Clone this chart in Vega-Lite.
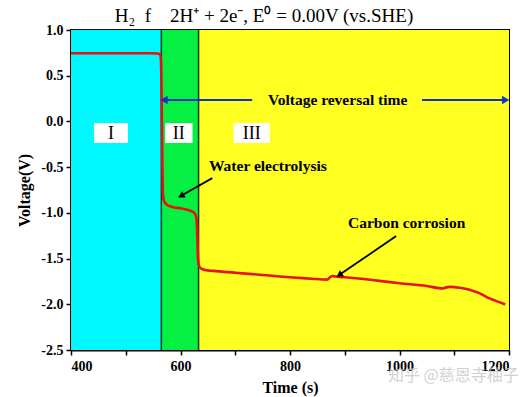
{
  "$schema": "https://vega.github.io/schema/vega-lite/v6.json",
  "width": 438,
  "height": 320,
  "autosize": "none",
  "padding": {"left": 71, "top": 30, "right": 21, "bottom": 47},
  "background": "white",
  "config": {
    "view": {"stroke": "black", "strokeWidth": 2},
    "font": "Liberation Serif"
  },
  "title": {
    "text": "H\u2082\u00a0 f\u00a0\u00a0\u00a0 2H\u207a + 2e\u207b, E\u2070 = 0.00V (vs.SHE)",
    "font": "Liberation Serif",
    "fontSize": 19,
    "fontWeight": "normal",
    "color": "black",
    "anchor": "middle",
    "dx": -26,
    "offset": -3
  },
  "datasets": {
    "regions": [
      {"start": 400, "end": 565, "region": "I"},
      {"start": 565, "end": 633, "region": "II"},
      {"start": 633, "end": 1200, "region": "III"}
    ],
    "dividers": [{"t": 565}, {"t": 633}],
    "voltage": [
      {"t": 400, "v": 0.745}, {"t": 450, "v": 0.745}, {"t": 500, "v": 0.745},
      {"t": 540, "v": 0.745}, {"t": 558, "v": 0.743}, {"t": 562, "v": 0.735},
      {"t": 564, "v": 0.7}, {"t": 565, "v": 0.5}, {"t": 566, "v": 0.0},
      {"t": 567, "v": -0.5}, {"t": 568, "v": -0.8}, {"t": 570, "v": -0.87},
      {"t": 575, "v": -0.91}, {"t": 585, "v": -0.935}, {"t": 600, "v": -0.95},
      {"t": 615, "v": -0.97}, {"t": 625, "v": -1.0}, {"t": 629, "v": -1.05},
      {"t": 631, "v": -1.3}, {"t": 632, "v": -1.5}, {"t": 634, "v": -1.58},
      {"t": 638, "v": -1.61}, {"t": 645, "v": -1.625}, {"t": 660, "v": -1.635},
      {"t": 700, "v": -1.655}, {"t": 750, "v": -1.68}, {"t": 800, "v": -1.705},
      {"t": 840, "v": -1.72}, {"t": 868, "v": -1.73}, {"t": 872, "v": -1.71},
      {"t": 877, "v": -1.69}, {"t": 883, "v": -1.697}, {"t": 900, "v": -1.705},
      {"t": 950, "v": -1.735}, {"t": 1000, "v": -1.77}, {"t": 1050, "v": -1.8},
      {"t": 1080, "v": -1.828}, {"t": 1085, "v": -1.815}, {"t": 1092, "v": -1.81},
      {"t": 1110, "v": -1.82}, {"t": 1130, "v": -1.845}, {"t": 1145, "v": -1.875},
      {"t": 1160, "v": -1.925}, {"t": 1175, "v": -1.96}, {"t": 1193, "v": -2.0}
    ],
    "blueSegs": [
      {"t": 568, "t2": 731, "v": 0.234},
      {"t": 1041, "t2": 1196, "v": 0.234}
    ],
    "blueHeads": [
      {"t": 570, "v": 0.234, "shape": "triangle-left"},
      {"t": 1194, "v": 0.234, "shape": "triangle-right"}
    ],
    "blackSegs": [
      {"t": 658, "t2": 602, "v": -0.62, "v2": -0.81},
      {"t": 994, "t2": 891, "v": -1.254, "v2": -1.675}
    ],
    "blackHeads": [
      {"t": 601, "v": -0.815, "ang": 240.8},
      {"t": 890, "v": -1.68, "ang": 235.6}
    ],
    "boxes": [
      {"t": 442, "t2": 504, "v": -0.018, "v2": -0.236, "label": "I", "tc": 473, "vc": -0.127},
      {"t": 572, "t2": 622, "v": -0.018, "v2": -0.236, "label": "II", "tc": 597, "vc": -0.127},
      {"t": 697, "t2": 763, "v": -0.018, "v2": -0.236, "label": "III", "tc": 730, "vc": -0.127}
    ],
    "centerNotes": [
      {"t": 887, "v": 0.234, "text": "Voltage reversal time"}
    ],
    "leftNotes": [
      {"t": 652, "v": -0.488, "text": "Water electrolysis"},
      {"t": 906, "v": -1.108, "text": "Carbon corrosion"}
    ],
    "mark": [{"t": 979, "v": -2.785, "text": "知乎 @慈恩寺柚子"}]
  },
  "layer": [
    {
      "data": {"name": "regions"},
      "mark": {"type": "rect"},
      "encoding": {
        "x": {
          "field": "start", "type": "quantitative",
          "scale": {"domain": [400, 1200], "nice": false, "zero": false},
          "axis": {
            "title": "Time (s)",
            "values": [400, 500, 600, 700, 800, 900, 1000, 1100, 1200],
            "labelExpr": "datum.value % 200 == 0 ? format(datum.value, 'd') : ''",
            "grid": false,
            "domainColor": "black", "domainWidth": 2,
            "tickColor": "black", "tickWidth": 1.5, "tickSize": 5,
            "labelFont": "Liberation Serif", "labelFontWeight": "bold",
            "labelFontSize": 14, "labelColor": "black", "labelPadding": 4,
            "titleFont": "Liberation Serif", "titleFontWeight": "bold",
            "titleFontSize": 16, "titleColor": "black", "titlePadding": 6
          }
        },
        "x2": {"field": "end"},
        "y": {"datum": 1.0, "type": "quantitative",
          "scale": {"domain": [-2.5, 1.0], "nice": false, "zero": false},
          "axis": {
            "title": "Voltage(V)",
            "values": [-2.5, -2.25, -2.0, -1.75, -1.5, -1.25, -1.0, -0.75, -0.5, -0.25, 0, 0.25, 0.5, 0.75, 1.0],
            "labelExpr": "abs(round(datum.value * 4)) % 2 == 0 ? replace(format(datum.value, '.1f'), '−', '-') : ''",
            "grid": false,
            "domainColor": "black", "domainWidth": 2,
            "tickColor": "black", "tickWidth": 1.5, "tickSize": 5,
            "labelFont": "Liberation Serif", "labelFontWeight": "bold",
            "labelFontSize": 14, "labelColor": "black", "labelPadding": 3,
            "titleFont": "Liberation Serif", "titleFontWeight": "bold",
            "titleFontSize": 16, "titleColor": "black", "titlePadding": 8
          }
        },
        "y2": {"datum": -2.5},
        "color": {
          "field": "region", "type": "nominal",
          "scale": {"domain": ["I", "II", "III"], "range": ["#00F8FF", "#05F043", "#FFFF22"]},
          "legend": null
        }
      }
    },
    {
      "data": {"name": "dividers"},
      "mark": {"type": "rule", "color": "#173a17", "strokeWidth": 1.5},
      "encoding": {"x": {"field": "t", "type": "quantitative"}}
    },
    {
      "data": {"name": "boxes"},
      "mark": {"type": "rect", "color": "white"},
      "encoding": {
        "x": {"field": "t", "type": "quantitative"},
        "x2": {"field": "t2"},
        "y": {"field": "v", "type": "quantitative"},
        "y2": {"field": "v2"}
      }
    },
    {
      "data": {"name": "boxes"},
      "mark": {"type": "text", "font": "Liberation Serif", "fontSize": 18, "color": "black", "baseline": "middle", "align": "center", "dy": 1},
      "encoding": {
        "x": {"field": "tc", "type": "quantitative"},
        "y": {"field": "vc", "type": "quantitative"},
        "text": {"field": "label"}
      }
    },
    {
      "data": {"name": "voltage"},
      "mark": {"type": "line", "color": "#E8120C", "strokeWidth": 2.6, "interpolate": "monotone"},
      "encoding": {
        "x": {"field": "t", "type": "quantitative"},
        "y": {"field": "v", "type": "quantitative"}
      }
    },
    {
      "data": {"name": "blueSegs"},
      "mark": {"type": "rule", "color": "#1530C8", "strokeWidth": 2},
      "encoding": {
        "x": {"field": "t", "type": "quantitative"},
        "x2": {"field": "t2"},
        "y": {"field": "v", "type": "quantitative"}
      }
    },
    {
      "data": {"name": "blueHeads"},
      "mark": {"type": "point", "filled": true, "color": "#1530C8", "size": 70, "opacity": 1},
      "encoding": {
        "x": {"field": "t", "type": "quantitative"},
        "y": {"field": "v", "type": "quantitative"},
        "shape": {"field": "shape", "type": "nominal", "scale": null}
      }
    },
    {
      "data": {"name": "blackSegs"},
      "mark": {"type": "rule", "color": "black", "strokeWidth": 1.8},
      "encoding": {
        "x": {"field": "t", "type": "quantitative"},
        "x2": {"field": "t2"},
        "y": {"field": "v", "type": "quantitative"},
        "y2": {"field": "v2"}
      }
    },
    {
      "data": {"name": "blackHeads"},
      "mark": {"type": "point", "filled": true, "color": "black", "shape": "triangle-up", "size": 55, "opacity": 1},
      "encoding": {
        "x": {"field": "t", "type": "quantitative"},
        "y": {"field": "v", "type": "quantitative"},
        "angle": {"field": "ang", "type": "quantitative", "scale": null}
      }
    },
    {
      "data": {"name": "centerNotes"},
      "mark": {"type": "text", "font": "Liberation Serif", "fontWeight": "bold", "fontSize": 15.5, "color": "black", "baseline": "middle", "align": "center"},
      "encoding": {
        "x": {"field": "t", "type": "quantitative"},
        "y": {"field": "v", "type": "quantitative"},
        "text": {"field": "text"}
      }
    },
    {
      "data": {"name": "leftNotes"},
      "mark": {"type": "text", "font": "Liberation Serif", "fontWeight": "bold", "fontSize": 15.5, "color": "black", "baseline": "middle", "align": "left"},
      "encoding": {
        "x": {"field": "t", "type": "quantitative"},
        "y": {"field": "v", "type": "quantitative"},
        "text": {"field": "text"}
      }
    },
    {
      "data": {"name": "mark"},
      "mark": {"type": "text", "font": "Noto Sans CJK SC", "fontSize": 16, "color": "#c8c8c8", "opacity": 0.8, "align": "left", "baseline": "middle"},
      "encoding": {
        "x": {"field": "t", "type": "quantitative"},
        "y": {"field": "v", "type": "quantitative"},
        "text": {"field": "text"}
      }
    }
  ]
}
